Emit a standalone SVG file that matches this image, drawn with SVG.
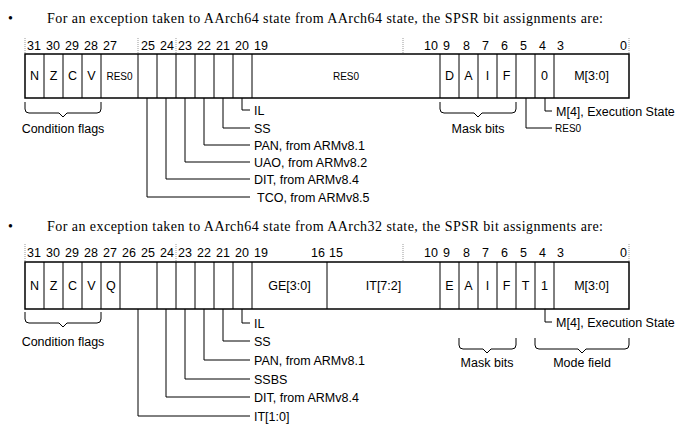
<svg xmlns="http://www.w3.org/2000/svg" width="689" height="432" viewBox="0 0 689 432">
<style>
.s{font-family:"Liberation Serif",serif;font-size:14px;fill:#000}
.t{font-family:"Liberation Sans",Arial,sans-serif;font-size:12.5px;fill:#000}
.sm{font-family:"Liberation Sans",Arial,sans-serif;font-size:10px;fill:#000}
.c{text-anchor:middle}.r{text-anchor:end}
.box{fill:none;stroke:#000;stroke-width:1.5}
.ln{fill:none;stroke:#000;stroke-width:1}
.dt{stroke:#999;stroke-width:1;stroke-dasharray:1,1}
</style>
<rect width="689" height="432" fill="#fff"/>
<text class="s" x="8" y="23">•</text>
<text class="s" x="47" y="23" textLength="556">For an exception taken to AArch64 state from AArch64 state, the SPSR bit assignments are:</text>
<text class="s" x="8" y="231">•</text>
<text class="s" x="47" y="231" textLength="556">For an exception taken to AArch64 state from AArch32 state, the SPSR bit assignments are:</text>

<g id="reg1">
<g class="dt"><line x1="25" y1="38" x2="25" y2="54"/><line x1="138" y1="38" x2="138" y2="54"/><line x1="176" y1="38" x2="176" y2="54"/><line x1="403" y1="38" x2="403" y2="54"/><line x1="629" y1="38" x2="629" y2="54"/></g>
<rect class="box" x="25" y="54" width="604" height="44"/>
<path class="ln" d="M44 54V98M63 54V98M82 54V98M101 54V98M138 54V98M157 54V98M176 54V98M195 54V98M214 54V98M233 54V98M252 54V98M440 54V98M459 54V98M478 54V98M497 54V98M516 54V98M535 54V98M554 54V98"/>
<g class="t">
<text x="27" y="50">31</text><text x="46" y="50">30</text><text x="65" y="50">29</text><text x="84" y="50">28</text><text x="103" y="50">27</text><text x="141" y="50">25</text><text x="160" y="50">24</text><text x="178" y="50">23</text><text x="197" y="50">22</text><text x="216" y="50">21</text><text x="235" y="50">20</text><text x="254" y="50">19</text>
<text class="r" x="438" y="50">10</text><text x="443" y="50">9</text><text x="463" y="50">8</text><text x="482" y="50">7</text><text x="501" y="50">6</text><text x="520" y="50">5</text><text x="539" y="50">4</text><text x="557" y="50">3</text><text class="r" x="627" y="50">0</text>
<text class="c" x="34.5" y="80">N</text><text class="c" x="53.5" y="80">Z</text><text class="c" x="72.5" y="80">C</text><text class="c" x="91.5" y="80">V</text>
<text class="c" x="449.5" y="80">D</text><text class="c" x="468.5" y="80">A</text><text class="c" x="487.5" y="80">I</text><text class="c" x="506.5" y="80">F</text><text class="c" x="544.5" y="80">0</text><text class="c" x="591.5" y="80">M[3:0]</text>
</g>
<text class="sm c" x="119.5" y="80">RES0</text><text class="sm c" x="346" y="80">RES0</text>
</g>

<g id="reg2">
<g class="dt"><line x1="25" y1="244" x2="25" y2="262"/><line x1="176" y1="244" x2="176" y2="262"/><line x1="403" y1="244" x2="403" y2="262"/><line x1="629" y1="244" x2="629" y2="262"/></g>
<rect class="box" x="25" y="262" width="604" height="47"/>
<path class="ln" d="M44 262V309M63 262V309M82 262V309M101 262V309M120 262V309M157 262V309M176 262V309M195 262V309M214 262V309M233 262V309M252 262V309M327 262V309M440 262V309M459 262V309M478 262V309M497 262V309M516 262V309M535 262V309M554 262V309"/>
<g class="t">
<text x="27" y="257">31</text><text x="46" y="257">30</text><text x="65" y="257">29</text><text x="84" y="257">28</text><text x="103" y="257">27</text><text x="122" y="257">26</text><text x="141" y="257">25</text><text x="160" y="257">24</text><text x="178" y="257">23</text><text x="197" y="257">22</text><text x="216" y="257">21</text><text x="235" y="257">20</text><text x="254" y="257">19</text>
<text class="r" x="325" y="257">16</text><text x="329" y="257">15</text>
<text class="r" x="438" y="257">10</text><text x="443" y="257">9</text><text x="463" y="257">8</text><text x="482" y="257">7</text><text x="501" y="257">6</text><text x="520" y="257">5</text><text x="539" y="257">4</text><text x="557" y="257">3</text><text class="r" x="627" y="257">0</text>
<text class="c" x="34.5" y="290">N</text><text class="c" x="53.5" y="290">Z</text><text class="c" x="72.5" y="290">C</text><text class="c" x="91.5" y="290">V</text><text x="106" y="290">Q</text>
<text class="c" x="289.5" y="290">GE[3:0]</text><text class="c" x="383.5" y="290">IT[7:2]</text>
<text class="c" x="449.5" y="290">E</text><text class="c" x="468.5" y="290">A</text><text class="c" x="487.5" y="290">I</text><text class="c" x="506.5" y="290">F</text><text class="c" x="525.5" y="290">T</text><text class="c" x="544.5" y="290">1</text><text class="c" x="591.5" y="290">M[3:0]</text>
</g>
</g>

<g id="connectors" class="ln">
<path d="M242 98V110H250M223 98V128H250M204 98V145H250M185 98V162H250M166 98V179H250M147 98V197H250"/>
<path d="M25 102V109Q25 113 29 113H59L63 117L67 113H97Q101 113 101 109V102"/>
<path d="M440 102V109Q440 113 444 113H474L478 117L482 113H512Q516 113 516 109V102"/>
<path d="M526 98V128H552M545 98V111H552"/>
<path d="M242 309V323H250M223 309V341H250M204 309V360H250M185 309V379H250M166 309V397H250M138 309V416H250"/>
<path d="M25 312V319Q25 323 29 323H59L63 327L67 323H97Q101 323 101 319V312"/>
<path d="M545 309V322H552"/>
<path d="M459 338V345Q459 349 463 349H483L487 353L491 349H512Q516 349 516 345V338"/>
<path d="M535 338V345Q535 349 539 349H578L582 353L586 349H625Q629 349 629 345V338"/>
</g>

<g id="labels" class="t">
<text x="254" y="115">IL</text><text x="254" y="133">SS</text><text x="254" y="150">PAN, from ARMv8.1</text><text x="254" y="167">UAO, from ARMv8.2</text><text x="254" y="184">DIT, from ARMv8.4</text><text x="257" y="202">TCO, from ARMv8.5</text>
<text class="c" x="63" y="133">Condition flags</text><text class="c" x="478" y="133">Mask bits</text>
<text x="556" y="116">M[4], Execution State</text>
<text class="sm" x="555" y="132">RES0</text>
<text x="254" y="328">IL</text><text x="254" y="346">SS</text><text x="254" y="365">PAN, from ARMv8.1</text><text x="254" y="384">SSBS</text><text x="254" y="402">DIT, from ARMv8.4</text><text x="254" y="421">IT[1:0]</text>
<text class="c" x="63" y="346">Condition flags</text>
<text x="556" y="327">M[4], Execution State</text>
<text class="c" x="487" y="367">Mask bits</text><text class="c" x="582" y="367">Mode field</text>
</g>
</svg>
